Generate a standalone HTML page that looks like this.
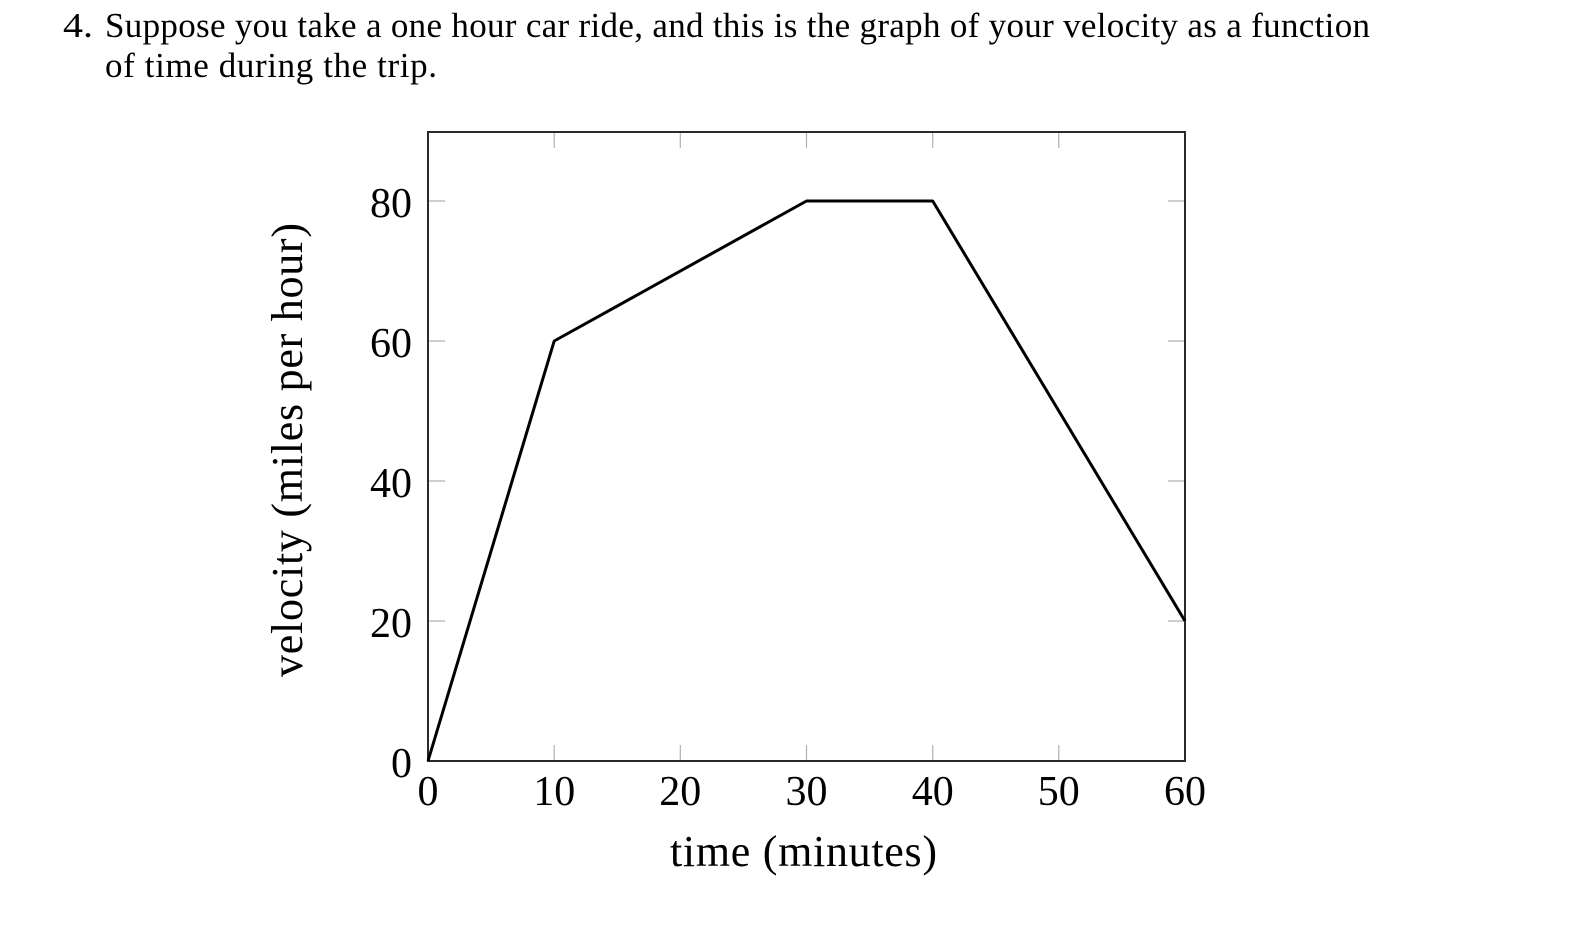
<!DOCTYPE html>
<html>
<head>
<meta charset="utf-8">
<style>
  html, body { margin: 0; padding: 0; background: #fff; }
  svg { display: block; }
  text { font-family: "Liberation Serif", "DejaVu Serif", serif; fill: #000; }
</style>
</head>
<body>
<svg width="1570" height="928" viewBox="0 0 1570 928" xmlns="http://www.w3.org/2000/svg">
  <rect x="0" y="0" width="1570" height="928" fill="#fff"/>

  <!-- Question text -->
  <text x="63" y="37" font-size="35" textLength="30" lengthAdjust="spacingAndGlyphs">4.</text>
  <text x="105" y="37" font-size="35" textLength="1265" lengthAdjust="spacing">Suppose you take a one hour car ride, and this is the graph of your velocity as a function</text>
  <text x="105" y="77" font-size="35" textLength="332" lengthAdjust="spacing">of time during the trip.</text>

  <!-- Ticks (gray) -->
  <g stroke="#b0b0b0" stroke-width="1.2">
    <line x1="554.2" y1="761" x2="554.2" y2="745"/>
    <line x1="680.3" y1="761" x2="680.3" y2="745"/>
    <line x1="806.5" y1="761" x2="806.5" y2="745"/>
    <line x1="932.7" y1="761" x2="932.7" y2="745"/>
    <line x1="1058.8" y1="761" x2="1058.8" y2="745"/>
    <line x1="554.2" y1="132" x2="554.2" y2="148"/>
    <line x1="680.3" y1="132" x2="680.3" y2="148"/>
    <line x1="806.5" y1="132" x2="806.5" y2="148"/>
    <line x1="932.7" y1="132" x2="932.7" y2="148"/>
    <line x1="1058.8" y1="132" x2="1058.8" y2="148"/>
    <line x1="428" y1="621" x2="445" y2="621"/>
    <line x1="428" y1="481" x2="445" y2="481"/>
    <line x1="428" y1="341" x2="445" y2="341"/>
    <line x1="428" y1="201" x2="445" y2="201"/>
    <line x1="1185" y1="621" x2="1168" y2="621"/>
    <line x1="1185" y1="481" x2="1168" y2="481"/>
    <line x1="1185" y1="341" x2="1168" y2="341"/>
    <line x1="1185" y1="201" x2="1168" y2="201"/>
  </g>

  <!-- Frame -->
  <rect x="428" y="132" width="757" height="629" fill="none" stroke="#2a2a2a" stroke-width="2"/>

  <!-- Data line -->
  <polyline points="428,761 554.2,341 806.5,201 932.7,201 1185,621" fill="none" stroke="#000" stroke-width="3" stroke-linejoin="bevel"/>

  <!-- Y tick labels -->
  <g font-size="42" text-anchor="end">
    <text x="412" y="777">0</text>
    <text x="412" y="637">20</text>
    <text x="412" y="497">40</text>
    <text x="412" y="357">60</text>
    <text x="412" y="217">80</text>
  </g>

  <!-- X tick labels -->
  <g font-size="42" text-anchor="middle">
    <text x="428" y="805">0</text>
    <text x="554.2" y="805">10</text>
    <text x="680.3" y="805">20</text>
    <text x="806.5" y="805">30</text>
    <text x="932.7" y="805">40</text>
    <text x="1058.8" y="805">50</text>
    <text x="1185" y="805">60</text>
  </g>

  <!-- Axis labels -->
  <text x="670" y="866" font-size="44" textLength="267" lengthAdjust="spacing">time (minutes)</text>
  <text transform="translate(302,677) rotate(-90)" x="0" y="0" font-size="44" textLength="454" lengthAdjust="spacing">velocity (miles per hour)</text>
</svg>
</body>
</html>
